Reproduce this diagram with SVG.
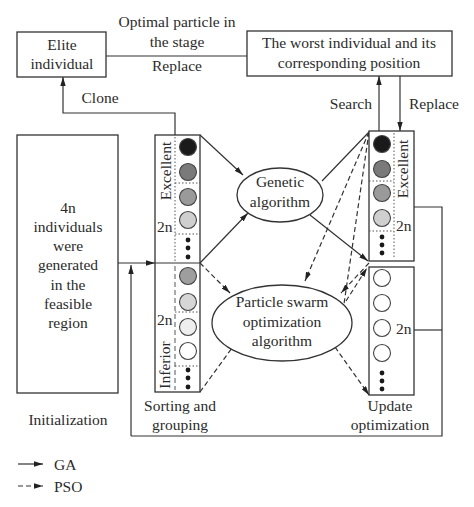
<svg xmlns="http://www.w3.org/2000/svg" width="474" height="507" viewBox="0 0 474 507" font-family="'Liberation Serif', 'Times New Roman', Times, 'DejaVu Serif', serif">
<style>
text{font-family:'Liberation Serif','Times New Roman',Times,'DejaVu Serif',serif;font-size:15.5px;fill:#2b2b2b}
.m{text-anchor:middle}
.e{text-anchor:end}
.box{fill:#fff;stroke:#333;stroke-width:1.3}
.ln{fill:none;stroke:#333;stroke-width:1.2}
.ar{fill:none;stroke:#333;stroke-width:1.2;marker-end:url(#ah)}
.da{fill:none;stroke:#333;stroke-width:1.2;stroke-dasharray:5,3;marker-end:url(#ah)}
.dl{fill:none;stroke:#333;stroke-width:1.2;stroke-dasharray:5,3}
.dot{fill:none;stroke:#555;stroke-width:1;stroke-dasharray:1.5,2}
.dsh{fill:none;stroke:#555;stroke-width:1;stroke-dasharray:5,3}
.c{stroke:#444;stroke-width:1.1}
.k{fill:#1a1a1a}
</style>
<defs>
<marker id="ah" viewBox="0 0 10 6" refX="10" refY="3" markerWidth="9" markerHeight="5.4" markerUnits="userSpaceOnUse" orient="auto">
<path d="M0,0 L10,3 L0,6 z" fill="#222"/>
</marker>
</defs>
<rect width="474" height="507" fill="#fff"/>

<g id="connectors">
<line class="ln" x1="106" y1="56" x2="247" y2="56"/>
<path class="ar" d="M175,135 V113 H63 V77"/>
<line class="ar" x1="379" y1="131" x2="379" y2="76"/>
<line class="ar" x1="400" y1="76" x2="400" y2="131"/>
<line class="ar" x1="118" y1="263" x2="155" y2="263"/>
<path class="ln" d="M414,207 H442 V436 H131"/>
<line class="ln" x1="414" y1="330" x2="442" y2="330"/>
<line class="ar" x1="131" y1="436" x2="131" y2="265"/>
<line class="ar" x1="200" y1="135" x2="243" y2="175"/>
<line class="ar" x1="200" y1="263" x2="248" y2="213"/>
<line class="ln" x1="322" y1="181" x2="369" y2="132"/>
<line class="ar" x1="310" y1="215" x2="368" y2="261"/>
<line class="da" x1="200" y1="263" x2="230" y2="293"/>
<line class="da" x1="200" y1="392" x2="240" y2="337"/>
<line class="da" x1="369" y1="132" x2="305" y2="281"/>
<line class="dl" x1="369" y1="132" x2="344" y2="304"/>
<line class="da" x1="369" y1="263" x2="341" y2="293"/>
<line class="da" x1="346" y1="301" x2="367" y2="268"/>
<line class="da" x1="335" y1="347" x2="369" y2="395"/>
</g>

<g id="elite">
<rect class="box" x="17" y="32" width="89" height="45"/>
<text class="m" x="62" y="50">Elite</text>
<text class="m" x="62" y="69">individual</text>
</g>

<g id="worst">
<rect class="box" x="247" y="31" width="205" height="45"/>
<text class="m" x="349" y="48">The worst individual and its</text>
<text class="m" x="349" y="68">corresponding position</text>
</g>

<g id="labels-top">
<text class="m" x="177" y="27">Optimal particle in</text>
<text class="m" x="177" y="47">the stage</text>
<text class="m" x="177" y="71">Replace</text>
<text class="m" x="100" y="103">Clone</text>
<text class="e" x="372" y="109">Search</text>
<text x="409" y="109">Replace</text>
</g>

<g id="init">
<rect class="box" x="17" y="135" width="101" height="258"/>
<text class="m" x="68" y="213">4n</text>
<text class="m" x="68" y="232">individuals</text>
<text class="m" x="68" y="251">were</text>
<text class="m" x="68" y="270">generated</text>
<text class="m" x="68" y="290">in the</text>
<text class="m" x="68" y="309">feasible</text>
<text class="m" x="68" y="328">region</text>
<text class="m" x="68" y="425">Initialization</text>
</g>

<g id="sorting">
<rect class="box" x="155" y="135" width="45" height="257"/>
<line class="ln" x1="155" y1="263" x2="200" y2="263"/>
<line class="dot" x1="175" y1="137" x2="175" y2="262"/>
<line class="dsh" x1="175" y1="266" x2="175" y2="390"/>
<line class="dot" x1="175" y1="183" x2="200" y2="183"/>
<line class="dot" x1="175" y1="234" x2="200" y2="234"/>
<line class="dot" x1="175" y1="312" x2="200" y2="312"/>
<line class="dot" x1="175" y1="366" x2="200" y2="366"/>
<circle class="c" cx="188" cy="147" r="8.5" fill="#1a1a1a"/>
<circle class="c" cx="188" cy="172" r="8.5" fill="#7a7a7a"/>
<circle class="c" cx="188" cy="197" r="8.5" fill="#9a9a9a"/>
<circle class="c" cx="188" cy="220" r="8.5" fill="#cfcfcf"/>
<circle class="k" cx="188" cy="240" r="2.4"/>
<circle class="k" cx="188" cy="248" r="2.4"/>
<circle class="k" cx="188" cy="257" r="2.4"/>
<circle class="c" cx="188" cy="276" r="8.5" fill="#9e9e9e"/>
<circle class="c" cx="188" cy="302" r="8.5" fill="#d6d6d6"/>
<circle class="c" cx="188" cy="327" r="8.5" fill="#eeeeee"/>
<circle class="c" cx="188" cy="351" r="8.5" fill="#fff"/>
<circle class="k" cx="188" cy="370" r="2.4"/>
<circle class="k" cx="188" cy="378" r="2.4"/>
<circle class="k" cx="188" cy="387" r="2.4"/>
<text class="m" transform="translate(171,171) rotate(-90)" font-size="15">Excellent</text>
<text class="m" transform="translate(170,365) rotate(-90)" font-size="15">Inferior</text>
<text x="157" y="232" font-size="15">2n</text>
<text x="157" y="325" font-size="15">2n</text>
<text class="m" x="180" y="411">Sorting and</text>
<text class="m" x="180" y="430">grouping</text>
</g>

<g id="ga">
<ellipse class="box" cx="280" cy="195" rx="43" ry="27"/>
<text class="m" x="280" y="187">Genetic</text>
<text class="m" x="280" y="207">algorithm</text>
</g>

<g id="pso">
<ellipse class="box" cx="282" cy="323" rx="70" ry="38"/>
<text class="m" x="282" y="307">Particle swarm</text>
<text class="m" x="282" y="327">optimization</text>
<text class="m" x="282" y="346">algorithm</text>
</g>

<g id="update">
<rect class="box" x="369" y="131" width="45" height="130"/>
<rect class="box" x="369" y="267" width="45" height="128"/>
<line class="dot" x1="394" y1="133" x2="394" y2="259"/>
<line class="dot" x1="369" y1="181" x2="394" y2="181"/>
<line class="dot" x1="369" y1="231" x2="394" y2="231"/>
<circle class="c" cx="382" cy="144" r="8.5" fill="#1a1a1a"/>
<circle class="c" cx="382" cy="169" r="8.5" fill="#7a7a7a"/>
<circle class="c" cx="382" cy="193" r="8.5" fill="#9a9a9a"/>
<circle class="c" cx="382" cy="218" r="8.5" fill="#cfcfcf"/>
<circle class="k" cx="382" cy="237" r="2.4"/>
<circle class="k" cx="382" cy="245" r="2.4"/>
<circle class="k" cx="382" cy="253" r="2.4"/>
<circle class="c" cx="382" cy="278" r="8.5" fill="#fff"/>
<circle class="c" cx="382" cy="303" r="8.5" fill="#fff"/>
<circle class="c" cx="382" cy="328" r="8.5" fill="#fff"/>
<circle class="c" cx="382" cy="353" r="8.5" fill="#fff"/>
<circle class="k" cx="382" cy="373" r="2.4"/>
<circle class="k" cx="382" cy="381" r="2.4"/>
<circle class="k" cx="382" cy="389" r="2.4"/>
<text class="m" transform="translate(408,169) rotate(-90)" font-size="15">Excellent</text>
<text x="396" y="231" font-size="15">2n</text>
<text x="396" y="334" font-size="15">2n</text>
<text class="m" x="390" y="411">Update</text>
<text class="m" x="390" y="430">optimization</text>
</g>

<g id="legend">
<line class="ar" x1="18" y1="464" x2="43" y2="464"/>
<text x="54" y="470">GA</text>
<line class="da" x1="18" y1="486" x2="43" y2="486"/>
<text x="54" y="492">PSO</text>
</g>
</svg>
